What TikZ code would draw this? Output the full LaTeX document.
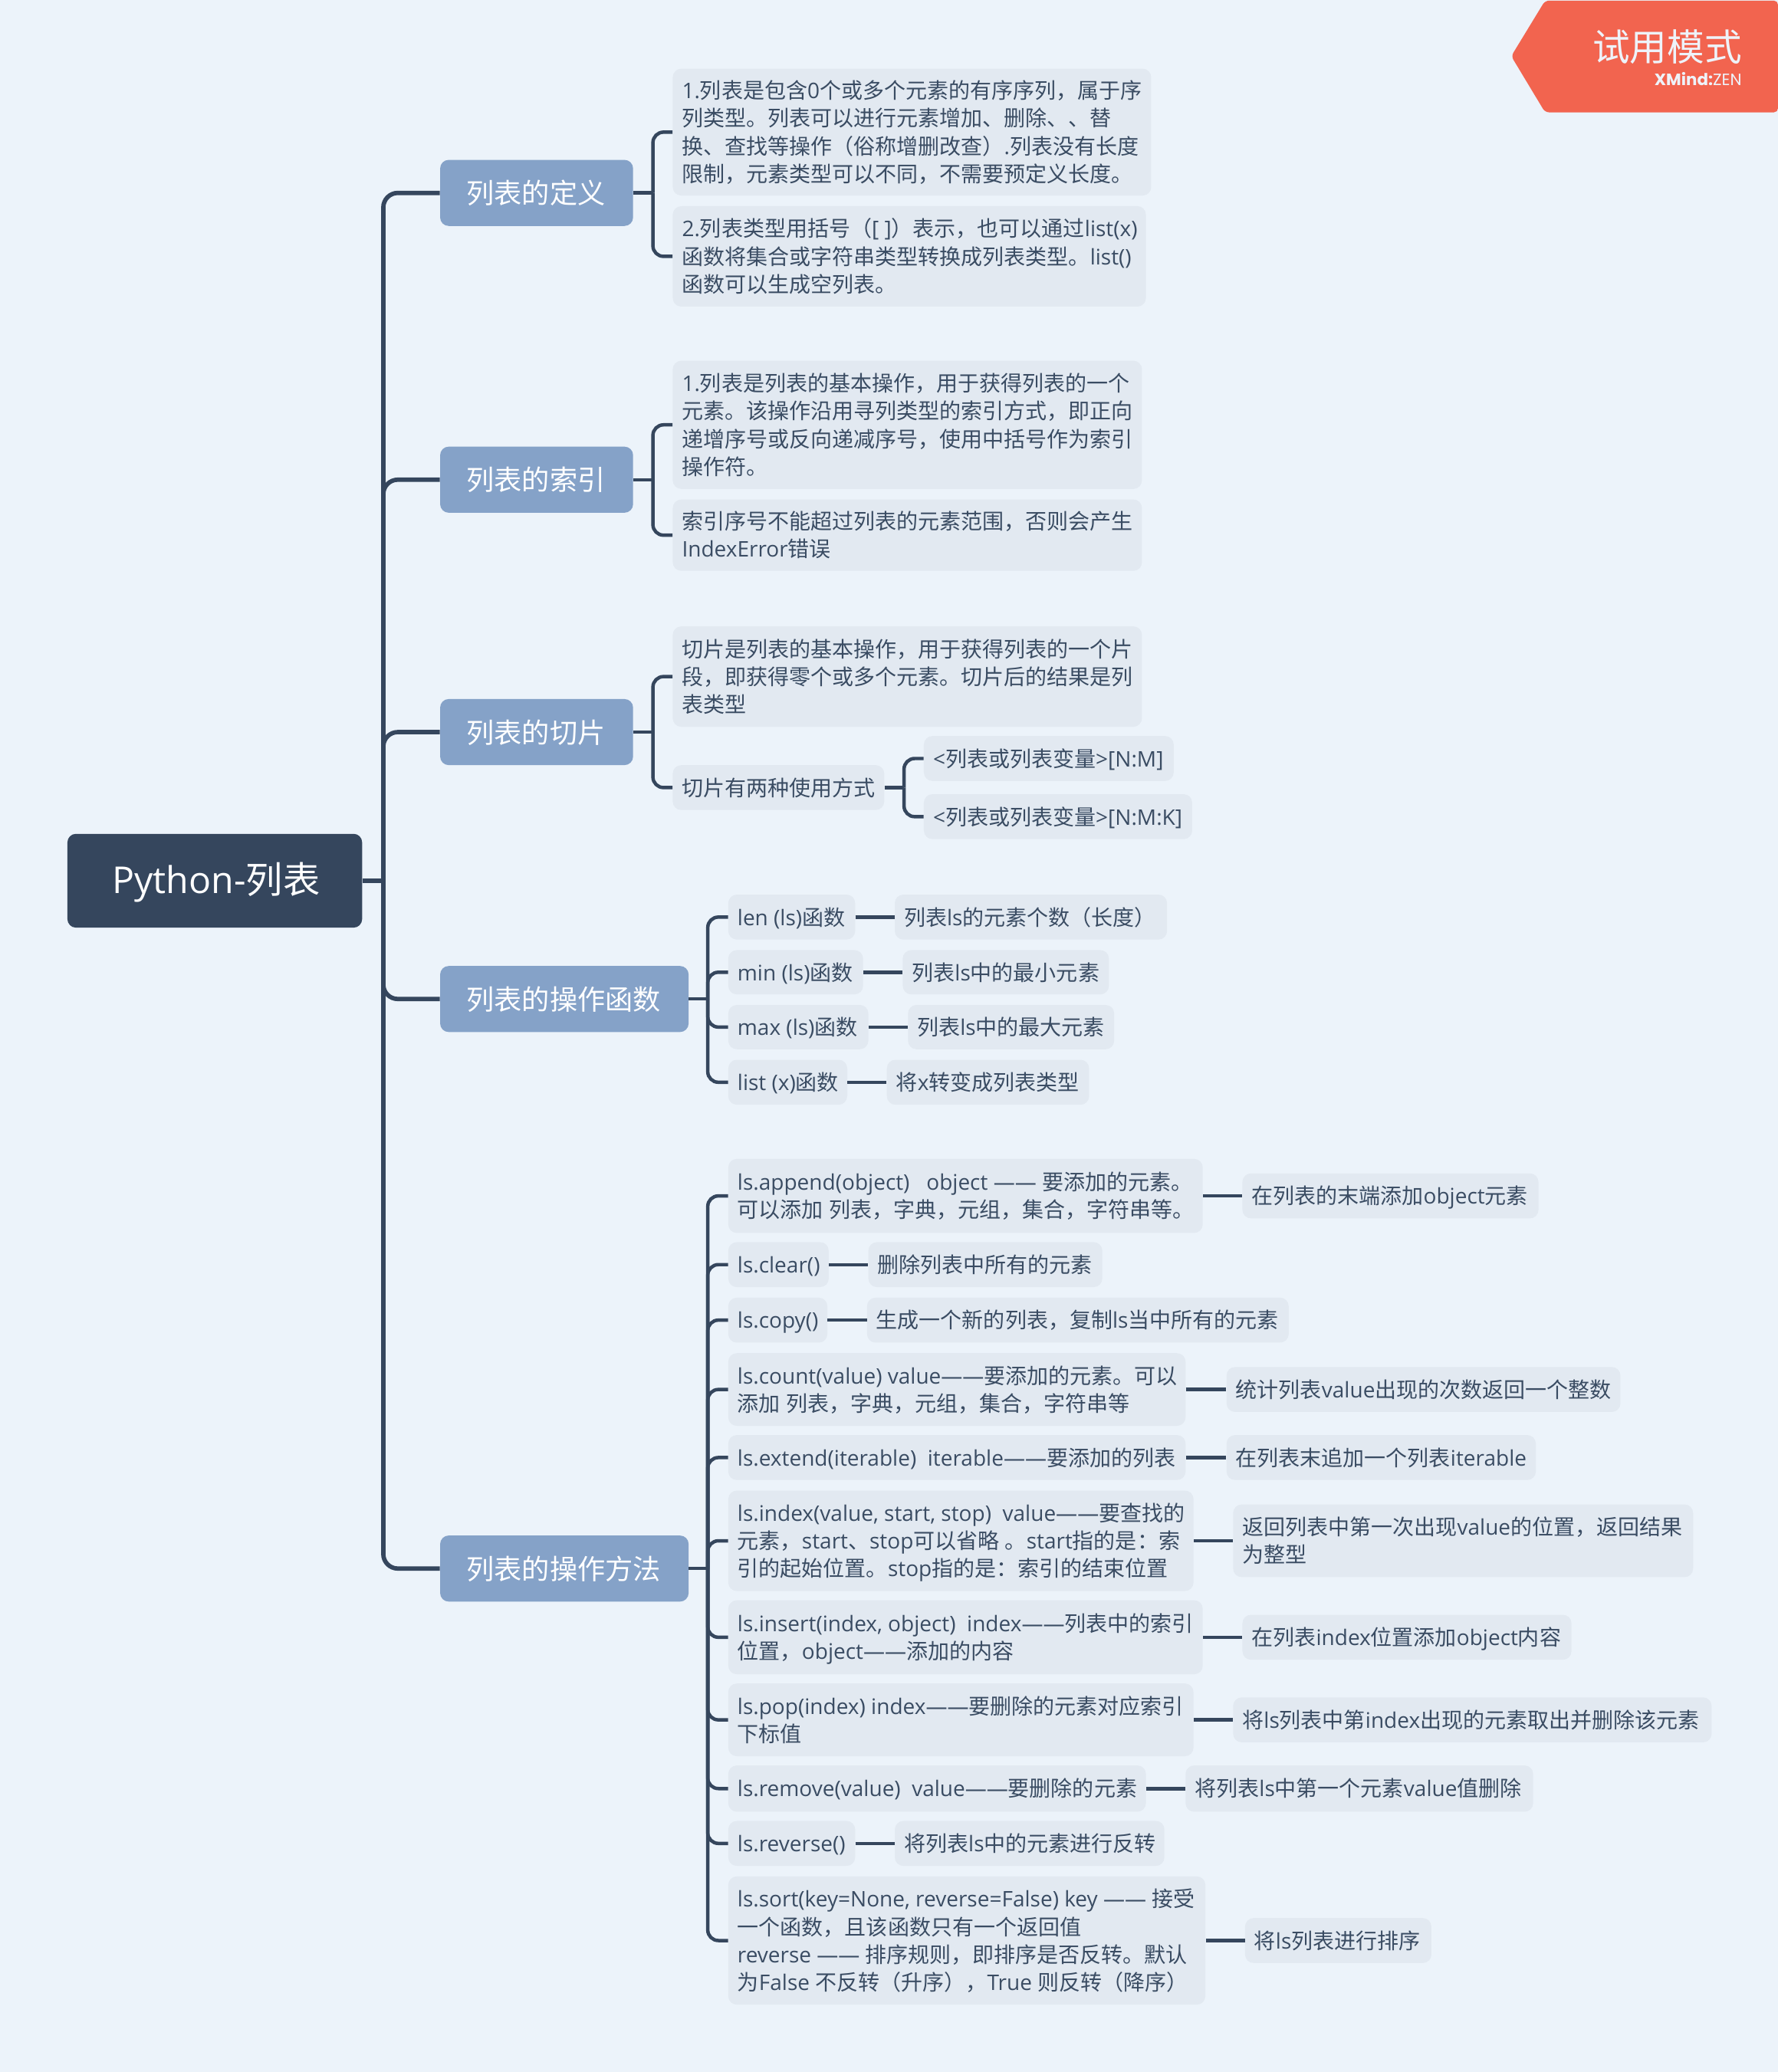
\documentclass[tikz,border=0pt]{standalone}
\usepackage{fontspec}
\setmainfont{Open Sans}
\newfontfamily\latfont{Open Sans}
\newfontfamily\cjkfont{Noto Sans CJK SC}
\newfontfamily\flagfont{Poppins}
\newXeTeXintercharclass\cjkclass
\newcount\cjkcnt
\cjkcnt="4E00 \loop\ifnum\cjkcnt<"A000 \XeTeXcharclass\cjkcnt=\cjkclass \advance\cjkcnt 1 \repeat
\cjkcnt="3000 \loop\ifnum\cjkcnt<"3040 \XeTeXcharclass\cjkcnt=\cjkclass \advance\cjkcnt 1 \repeat
\cjkcnt="FF00 \loop\ifnum\cjkcnt<"FFF0 \XeTeXcharclass\cjkcnt=\cjkclass \advance\cjkcnt 1 \repeat
\XeTeXinterchartoks 0 \cjkclass={\cjkfont}
\XeTeXinterchartoks 4095 \cjkclass={\cjkfont}
\XeTeXinterchartoks \cjkclass 0 ={\latfont}
\XeTeXinterchartoks \cjkclass 4095 ={\latfont}
\XeTeXinterchartokenstate=1
\definecolor{bgc}{HTML}{ECF3FA}
\definecolor{rootc}{HTML}{35465D}
\definecolor{topicc}{HTML}{85A2C8}
\definecolor{leafc}{HTML}{E2E9F1}
\definecolor{inkc}{HTML}{3A4C63}
\definecolor{linec}{HTML}{35465D}
\definecolor{flagc}{HTML}{F2644F}
\definecolor{flagt}{HTML}{EEF3FA}
\def\txtshift{0pt}
\tikzset{
  boxbase/.style={inner sep=0pt,anchor=center,rounded corners=6.5pt},
  rootbox/.style={boxbase,fill=rootc,text=white,font=\fontsize{28}{34}\selectfont\def\txtshift{3pt}},
  topicbox/.style={boxbase,fill=topicc,text=white,font=\fontsize{21}{26}\selectfont\def\txtshift{3pt}},
  leafbox/.style={boxbase,fill=leafc,text=inkc,font=\fontsize{16.25}{21}\selectfont\def\txtshift{2pt}},
  mainline/.style={draw=linec,line width=3.3pt},
  subline/.style={draw=linec,line width=2.6pt},
  mainbend/.style={mainline,rounded corners=11pt},
  subbend/.style={subline,rounded corners=8pt},
}
% \nd[pad]{style}{name}{x0}{y0}{x1}{y1}{text}
\newcommand\nd[8][7]{%
  \pgfmathsetlengthmacro\bxw{(#6-#4)*1}%
  \pgfmathsetlengthmacro\bxh{(#7-#5)*1}%
  \node[#2,minimum width=\bxw,minimum height=\bxh] (#3) at ({(#4+#6)/2},{(#5+#7)/2})
    {\hbox to \bxw{\hspace{#1pt}\raisebox{-\txtshift}[\height][\depth]{\begin{tabular}[c]{@{}l@{}}#8\end{tabular}}\hss}};%
}
\begin{document}
\begin{tikzpicture}[x=1pt,y=-1pt]
\fill[bgc] (0,0) rectangle (1345.2,1568);
\useasboundingbox (0,0) rectangle (1345.2,1568);
% flag
\fill[flagc,rounded corners=3pt] (1169,0.5) -- (1345.2,0.5) -- (1345.2,85) -- (1169,85) -- (1143.4,42.5) -- cycle;
\node[inner sep=0pt,anchor=east,text=flagt,font=\fontsize{28.2}{32}\selectfont] (flagA) at (1318,35.5) {试用模式};
\node[inner sep=0pt,anchor=east,text=flagt,font=\fontsize{12.4}{14}\selectfont\flagfont] (flagB) at (1318,59.5) {\textbf{XMind:}ZEN};
% root and topics
\nd[34]{rootbox}{root}{51}{631}{274}{702}{Python-列表}
\nd[20]{topicbox}{t1}{333}{121}{479}{171}{列表的定义}
\nd[20]{topicbox}{t2}{333}{338}{479}{388}{列表的索引}
\nd[20]{topicbox}{t3}{333}{529}{479}{579}{列表的切片}
\nd[20]{topicbox}{t4}{333}{731}{521}{781}{列表的操作函数}
\nd[20]{topicbox}{t5}{333}{1162}{521}{1212}{列表的操作方法}
% definition
\nd{leafbox}{d1}{509}{52}{871}{148}{1.列表是包含0个或多个元素的有序序列，属于序\\列类型。列表可以进行元素增加、删除、、替\\换、查找等操作（俗称增删改查）.列表没有长度\\限制，元素类型可以不同，不需要预定义长度。}
\nd{leafbox}{d2}{509}{156}{867}{232}{2.列表类型用括号（[ ]）表示，也可以通过list(x)\\函数将集合或字符串类型转换成列表类型。list()\\函数可以生成空列表。}
% index
\nd{leafbox}{i1}{509}{273}{864}{370}{1.列表是列表的基本操作，用于获得列表的一个\\元素。该操作沿用寻列类型的索引方式，即正向\\递增序号或反向递减序号，使用中括号作为索引\\操作符。}
\nd{leafbox}{i2}{509}{378}{864}{432}{索引序号不能超过列表的元素范围，否则会产生\\IndexError错误}
% slice
\nd{leafbox}{s1}{509}{474}{864}{550}{切片是列表的基本操作，用于获得列表的一个片\\段，即获得零个或多个元素。切片后的结果是列\\表类型}
\nd{leafbox}{s2}{509}{579}{669}{613}{切片有两种使用方式}
\nd{leafbox}{s21}{699}{557}{888}{591}{<列表或列表变量>[N:M]}
\nd{leafbox}{s22}{699}{601}{902}{635}{<列表或列表变量>[N:M:K]}
% functions
\nd{leafbox}{f1}{551}{677}{647}{711}{len (ls)函数}
\nd{leafbox}{f1r}{677}{677}{883}{711}{列表ls的元素个数（长度）}
\nd{leafbox}{f2}{551}{719}{653}{752.5}{min (ls)函数}
\nd{leafbox}{f2r}{683}{719}{839}{752.5}{列表ls中的最小元素}
\nd{leafbox}{f3}{551}{760.5}{657}{794}{max (ls)函数}
\nd{leafbox}{f3r}{687}{760.5}{843}{794}{列表ls中的最大元素}
\nd{leafbox}{f4}{551}{802}{641}{836}{list (x)函数}
\nd{leafbox}{f4r}{671}{802}{824}{836}{将x转变成列表类型}
% methods
\nd{leafbox}{m1}{551}{877}{910}{933}{ls.append(object)\ \ \ object —— 要添加的元素。\\可以添加 列表，字典，元组，集合，字符串等。}
\nd{leafbox}{m1r}{940}{888}{1164}{922}{在列表的末端添加object元素}
\nd{leafbox}{m2}{551}{940}{627}{974}{ls.clear()}
\nd{leafbox}{m2r}{657}{940}{834}{974}{删除列表中所有的元素}
\nd{leafbox}{m3}{551}{982}{626}{1016}{ls.copy()}
\nd{leafbox}{m3r}{656}{982}{975}{1016}{生成一个新的列表，复制ls当中所有的元素}
\nd{leafbox}{m4}{551}{1024}{897}{1079}{ls.count(value) value——要添加的元素。可以\\添加 列表，字典，元组，集合，字符串等}
\nd{leafbox}{m4r}{928}{1034.5}{1226}{1068.5}{统计列表value出现的次数返回一个整数}
\nd{leafbox}{m5}{551}{1086}{897}{1120}{ls.extend(iterable)\ \ iterable——要添加的列表}
\nd{leafbox}{m5r}{928}{1086}{1162}{1120}{在列表末追加一个列表iterable}
\nd{leafbox}{m6}{551}{1128}{903}{1204}{ls.index(value, start, stop)\ \ value——要查找的\\元素，start、stop可以省略 。start指的是：索\\引的起始位置。stop指的是：索引的结束位置}
\nd{leafbox}{m6r}{933}{1138.5}{1281}{1193.5}{返回列表中第一次出现value的位置，返回结果\\为整型}
\nd{leafbox}{m7}{551}{1211}{910}{1267}{ls.insert(index, object)\ \ index——列表中的索引\\位置，object——添加的内容}
\nd{leafbox}{m7r}{940}{1222}{1189}{1256}{在列表index位置添加object内容}
\nd{leafbox}{m8}{551}{1274}{903}{1329}{ls.pop(index) index——要删除的元素对应索引\\下标值}
\nd{leafbox}{m8r}{933}{1284.5}{1295}{1318.5}{将ls列表中第index出现的元素取出并删除该元素}
\nd{leafbox}{m9}{551}{1336}{867}{1371}{ls.remove(value)\ \ value——要删除的元素}
\nd{leafbox}{m9r}{897}{1336}{1160}{1371}{将列表ls中第一个元素value值删除}
\nd{leafbox}{m10}{551}{1378}{647}{1412}{ls.reverse()}
\nd{leafbox}{m10r}{677}{1378}{881}{1412}{将列表ls中的元素进行反转}
\nd{leafbox}{m11}{551}{1420}{912}{1517}{ls.sort(key=None, reverse=False) key —— 接受\\一个函数，且该函数只有一个返回值\\reverse —— 排序规则，即排序是否反转。默认\\为False 不反转（升序），True 则反转（降序）}
\nd{leafbox}{m11r}{942}{1451.5}{1083}{1485.5}{将ls列表进行排序}
% junctions
\coordinate (sp) at (290,666.5);
\coordinate (j1) at (494,146);
\coordinate (j2) at (494,363);
\coordinate (j3) at (494,554);
\coordinate (j4) at (535.5,756);
\coordinate (j5) at (535.5,1187);
\coordinate (j6) at (684,596);
% connectors
\draw[mainline] (root.east) -- (sp);
\foreach \t in {t1,t2,t3,t4,t5} \draw[mainbend] (sp) |- (\t.west);
\foreach \t/\j in {t1/j1,t2/j2,t3/j3,t4/j4,t5/j5,s2/j6} \draw[subline] (\t.east) -- (\j);
\foreach \j/\c in {j1/d1,j1/d2,j2/i1,j2/i2,j3/s1,j3/s2,j6/s21,j6/s22,j4/f1,j4/f2,j4/f3,j4/f4,j5/m1,j5/m2,j5/m3,j5/m4,j5/m5,j5/m6,j5/m7,j5/m8,j5/m9,j5/m10,j5/m11}
  \draw[subbend] (\j) |- (\c.west);
\foreach \a in {f1,f2,f3,f4,m1,m2,m3,m4,m5,m6,m7,m8,m9,m10,m11}
  \draw[subline] (\a.east) -- (\a r.west);
\end{tikzpicture}
\end{document}
